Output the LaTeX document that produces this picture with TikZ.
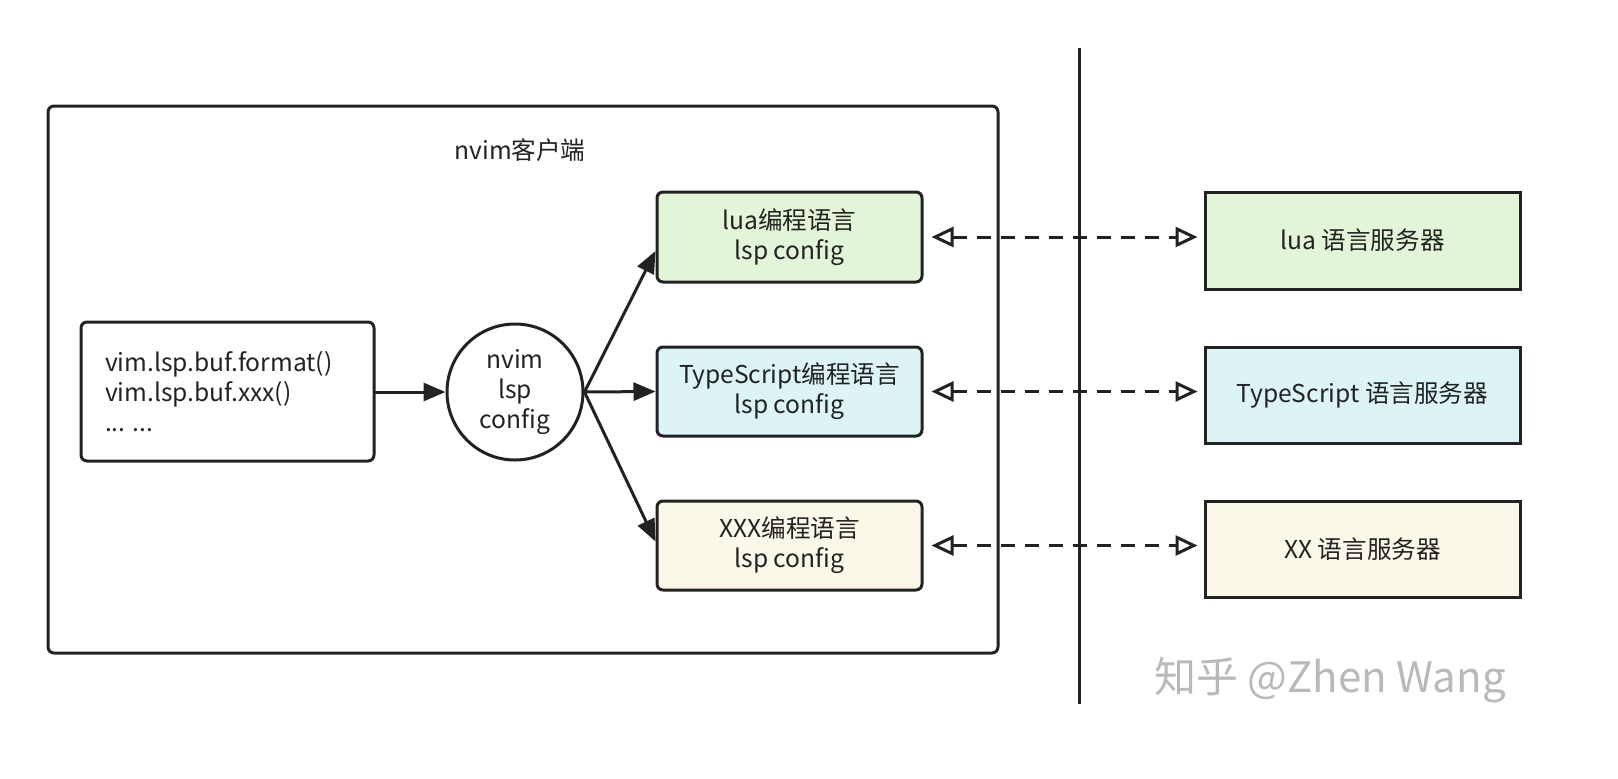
\documentclass[tikz,border=0pt]{standalone}
\usepackage{fontspec}
\setmainfont{Noto Sans CJK SC}
\usetikzlibrary{arrows.meta}
\definecolor{gf}{HTML}{E3F5D8}
\definecolor{cf}{HTML}{DDF4F6}
\definecolor{yf}{HTML}{FBF8E9}
\definecolor{ln}{HTML}{222222}
\begin{document}
\begin{tikzpicture}[x=0.5pt,y=-0.5pt,
  every node/.style={font=\fontsize{12.3}{15}\selectfont,text=ln},
  cbox/.style={draw=ln,line width=1.5pt,rounded corners=3pt},
  sbox/.style={draw=ln,line width=1.5pt},
  arr/.style={draw=ln,line width=1.5pt,-{Triangle[length=11pt,width=9pt]}},
  dsh/.style={draw=ln,line width=1.5pt,dash pattern=on 7pt off 5pt,{Triangle[open,length=11pt,width=10pt,line width=1.5pt]}-{Triangle[open,length=11pt,width=10pt,line width=1.5pt]}}]
\useasboundingbox (0,0) rectangle (1618,778);
\draw[cbox] (48,106) rectangle (998,653);
\node (title) at (520,150) {nvim客户端};
\draw[cbox] (81,322) rectangle (374,461);
\node[align=left,anchor=west] (calls) at (98,392) {vim.lsp.buf.format()\\vim.lsp.buf.xxx()\\... ...};
\coordinate (cr) at (374,392);
\node[circle,draw=ln,line width=1.5pt,minimum size=68pt,inner sep=0pt,align=center] (nl) at (515,392) {nvim\\lsp\\config};
\node[cbox,fill=gf,minimum width=132.5pt,minimum height=45pt,align=center] (c1) at (789.5,237) {lua编程语言\\lsp config};
\node[cbox,fill=cf,minimum width=132.5pt,minimum height=44.5pt,align=center] (c2) at (789.5,391.5) {TypeScript编程语言\\lsp config};
\node[cbox,fill=yf,minimum width=132.5pt,minimum height=44.5pt,align=center] (c3) at (789.5,545.5) {XXX编程语言\\lsp config};
\node[sbox,fill=gf,minimum width=157.5pt,minimum height=48.5pt] (s1) at (1362.5,240.5) {lua\ 语言服务器};
\node[sbox,fill=cf,minimum width=157.5pt,minimum height=48pt] (s2) at (1362.5,395) {TypeScript\ 语言服务器};
\node[sbox,fill=yf,minimum width=157.5pt,minimum height=48pt] (s3) at (1362.5,549) {XX\ 语言服务器};
\coordinate (vt) at (1079,48); \coordinate (vb) at (1079,704);
\draw[ln,line width=1.5pt] (vt) -- (vb);
\draw[arr] (cr) -- (nl);
\draw[arr] (nl.east) -- ([yshift=-7pt]c1.west);
\draw[arr] (nl.east) -- (c2.west);
\draw[arr] (nl.east) -- ([yshift=2pt]c3.west);
\draw[dsh] ([xshift=4pt]c1.east) -- ([xshift=-3pt]s1.west|-c1.east);
\draw[dsh] ([xshift=4pt]c2.east) -- ([xshift=-3pt]s2.west|-c2.east);
\draw[dsh] ([xshift=4pt]c3.east) -- ([xshift=-3pt]s3.west|-c3.east);
\node[text=gray!55,font=\fontsize{21}{24}\selectfont] (wm) at (1330,680) {知乎 @Zhen Wang};
\end{tikzpicture}
\end{document}
